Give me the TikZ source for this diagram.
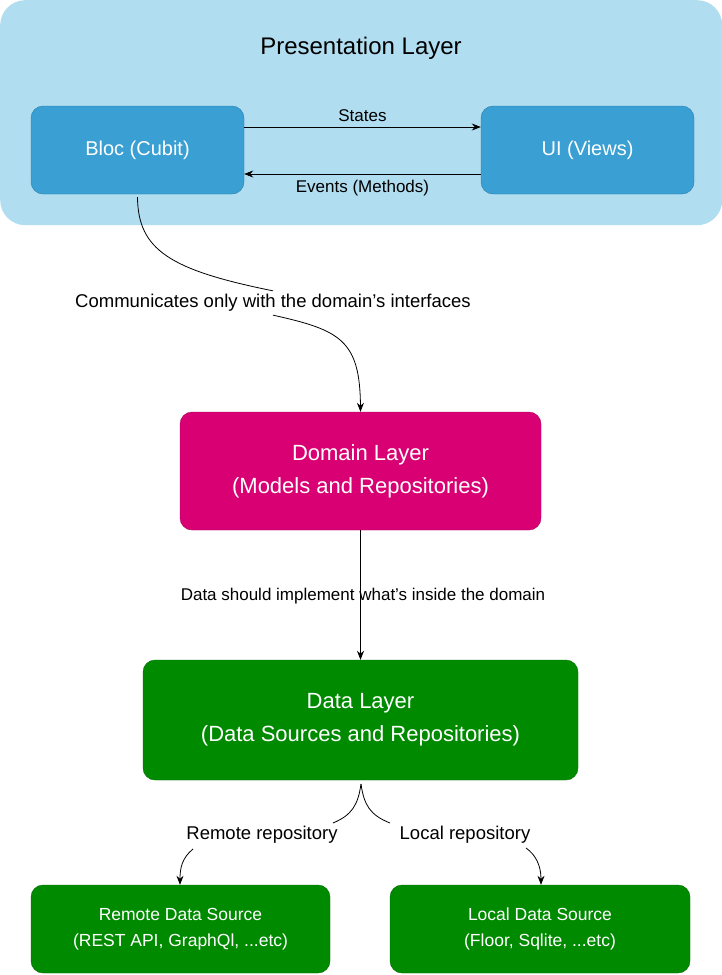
\documentclass[tikz,border=0pt]{standalone}
\usepackage{fontspec}
\setmainfont{Liberation Sans}
\usetikzlibrary{arrows.meta}
\definecolor{presbg}{HTML}{B1DDF0}
\definecolor{presbox}{HTML}{3A9FD2}
\definecolor{domainc}{HTML}{D80073}
\definecolor{datac}{HTML}{008A00}
\begin{document}
\begin{tikzpicture}[x=1pt,y=-1pt,
  every node/.style={align=center},
  layer/.style={rounded corners=12pt, draw=#1!80!black, fill=#1, text=white, inner sep=0pt},
  lbl/.style={font=\fontsize{17}{20}\selectfont},
  flow/.style={-{Stealth[length=9pt,width=7pt]}, thick}]

\useasboundingbox (0,0) rectangle (722,975);

% Presentation layer
\node[rounded corners=25pt, fill=presbg, minimum width=722pt, minimum height=225pt, anchor=north west] (pres) at (0,0) {};
\node[font=\fontsize{24}{28}\selectfont] (title) at (361,48) {Presentation Layer};
\node[layer=presbox, minimum width=213pt, minimum height=88pt, font=\fontsize{20}{24}\selectfont] (bloc) at (137.5,150) {Bloc (Cubit)};
\node[layer=presbox, minimum width=213pt, minimum height=88pt, font=\fontsize{20}{24}\selectfont] (ui) at (587.5,150) {UI (Views)};
\draw[flow] (bloc.east |- 0,127) -- node[lbl, above=2pt] {States} (ui.west |- 0,127);
\draw[flow] (ui.west |- 0,174) -- node[lbl, below=2pt] {Events (Methods)} (bloc.east |- 0,174);

% Domain and data
\node[layer=domainc, minimum width=361pt, minimum height=118pt, font=\fontsize{22}{33}\selectfont] (domain) at (360.5,471) {Domain Layer\\(Models and Repositories)};
\node[lbl, font=\fontsize{18.5}{22}\selectfont] (comm) at (273,303) {Communicates only with the domain's interfaces};
\draw[thick] (bloc.south) ++(0,3) .. controls (138,250) and (170,270) .. (comm.north);
\draw[flow] (comm.south) .. controls (340,330) and (360,340) .. (domain.north);

\node[layer=datac, minimum width=435pt, minimum height=120pt, font=\fontsize{22}{33}\selectfont] (data) at (360.5,720) {Data Layer\\(Data Sources and Repositories)};
\node[lbl] (impl) at (363,596) {Data should implement what's inside the domain};
\draw[flow] (domain.south) -- (data.north);

% Data sources
\node[layer=datac, minimum width=299pt, minimum height=88pt, font=\fontsize{17.5}{26}\selectfont] (remote) at (180.5,929) {Remote Data Source\\(REST API, GraphQl, ...etc)};
\node[layer=datac, minimum width=300pt, minimum height=88pt, font=\fontsize{17.5}{26}\selectfont] (local) at (540,929) {Local Data Source\\(Floor, Sqlite, ...etc)};
\node[lbl, font=\fontsize{18.5}{22}\selectfont] (rrepo) at (262,835) {Remote repository};
\node[lbl, font=\fontsize{18.5}{22}\selectfont] (lrepo) at (465,835) {Local repository};
\coordinate (split) at (361,784);
\draw[thick] (split) .. controls (358,805) and (352,815) .. (333,823);
\draw[thick] (split) .. controls (364,805) and (370,815) .. (390,823);
\draw[flow] (193,849) .. controls (182,858) and (180,868) .. (remote.north -| 180,0);
\draw[flow] (526,848) .. controls (536,855) and (541,866) .. (local.north -| 541,0);
\end{tikzpicture}
\end{document}
